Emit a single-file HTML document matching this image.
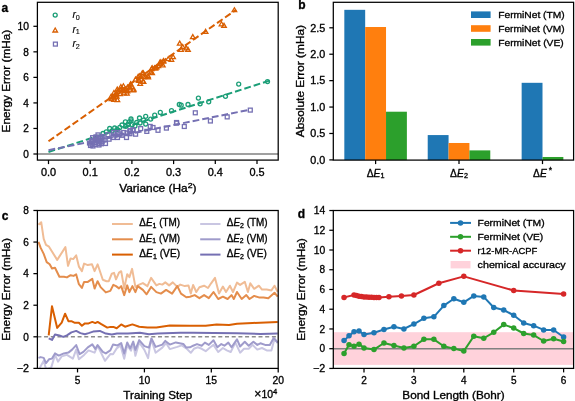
<!DOCTYPE html>
<html><head><meta charset="utf-8"><style>
html,body{margin:0;padding:0;background:#fff;}
svg{display:block;will-change:transform;}
text{font-family:"Liberation Sans", sans-serif;fill:#000;stroke:#000;stroke-width:0.32px;}
</style></head><body>
<svg width="575" height="401" viewBox="0 0 575 401">
<rect width="575" height="401" fill="#fff"/>
<line x1="37.40" y1="154.00" x2="278.20" y2="154.00" stroke="#808080" stroke-width="1.6" />
<circle cx="267.50" cy="81.60" r="2.0" fill="none" stroke="#1b9e77" stroke-width="1.3"/>
<circle cx="238.70" cy="84.10" r="2.0" fill="none" stroke="#1b9e77" stroke-width="1.3"/>
<circle cx="225.50" cy="96.30" r="2.0" fill="none" stroke="#1b9e77" stroke-width="1.3"/>
<circle cx="208.70" cy="101.80" r="2.0" fill="none" stroke="#1b9e77" stroke-width="1.3"/>
<circle cx="198.40" cy="98.10" r="2.0" fill="none" stroke="#1b9e77" stroke-width="1.3"/>
<circle cx="200.10" cy="103.80" r="2.0" fill="none" stroke="#1b9e77" stroke-width="1.3"/>
<circle cx="188.00" cy="104.50" r="2.0" fill="none" stroke="#1b9e77" stroke-width="1.3"/>
<circle cx="181.20" cy="105.20" r="2.0" fill="none" stroke="#1b9e77" stroke-width="1.3"/>
<circle cx="179.30" cy="104.50" r="2.0" fill="none" stroke="#1b9e77" stroke-width="1.3"/>
<circle cx="171.50" cy="110.70" r="2.0" fill="none" stroke="#1b9e77" stroke-width="1.3"/>
<circle cx="160.30" cy="112.40" r="2.0" fill="none" stroke="#1b9e77" stroke-width="1.3"/>
<circle cx="154.70" cy="115.20" r="2.0" fill="none" stroke="#1b9e77" stroke-width="1.3"/>
<circle cx="150.70" cy="119.10" r="2.0" fill="none" stroke="#1b9e77" stroke-width="1.3"/>
<circle cx="145.70" cy="116.30" r="2.0" fill="none" stroke="#1b9e77" stroke-width="1.3"/>
<circle cx="145.70" cy="124.10" r="2.0" fill="none" stroke="#1b9e77" stroke-width="1.3"/>
<circle cx="143.50" cy="120.20" r="2.0" fill="none" stroke="#1b9e77" stroke-width="1.3"/>
<circle cx="139.50" cy="118.00" r="2.0" fill="none" stroke="#1b9e77" stroke-width="1.3"/>
<circle cx="140.10" cy="123.00" r="2.0" fill="none" stroke="#1b9e77" stroke-width="1.3"/>
<circle cx="136.70" cy="122.50" r="2.0" fill="none" stroke="#1b9e77" stroke-width="1.3"/>
<circle cx="131.10" cy="120.80" r="2.0" fill="none" stroke="#1b9e77" stroke-width="1.3"/>
<circle cx="132.20" cy="124.70" r="2.0" fill="none" stroke="#1b9e77" stroke-width="1.3"/>
<circle cx="131.00" cy="119.00" r="2.0" fill="none" stroke="#1b9e77" stroke-width="1.3"/>
<circle cx="129.30" cy="121.80" r="2.0" fill="none" stroke="#1b9e77" stroke-width="1.3"/>
<circle cx="125.40" cy="121.80" r="2.0" fill="none" stroke="#1b9e77" stroke-width="1.3"/>
<circle cx="125.90" cy="126.30" r="2.0" fill="none" stroke="#1b9e77" stroke-width="1.3"/>
<circle cx="119.80" cy="127.40" r="2.0" fill="none" stroke="#1b9e77" stroke-width="1.3"/>
<circle cx="114.70" cy="128.00" r="2.0" fill="none" stroke="#1b9e77" stroke-width="1.3"/>
<circle cx="109.70" cy="128.50" r="2.0" fill="none" stroke="#1b9e77" stroke-width="1.3"/>
<circle cx="106.30" cy="131.90" r="2.0" fill="none" stroke="#1b9e77" stroke-width="1.3"/>
<circle cx="103.00" cy="133.50" r="2.0" fill="none" stroke="#1b9e77" stroke-width="1.3"/>
<circle cx="122.00" cy="125.00" r="2.0" fill="none" stroke="#1b9e77" stroke-width="1.3"/>
<circle cx="117.00" cy="129.50" r="2.0" fill="none" stroke="#1b9e77" stroke-width="1.3"/>
<circle cx="112.00" cy="131.00" r="2.0" fill="none" stroke="#1b9e77" stroke-width="1.3"/>
<circle cx="128.00" cy="124.50" r="2.0" fill="none" stroke="#1b9e77" stroke-width="1.3"/>
<circle cx="135.00" cy="126.00" r="2.0" fill="none" stroke="#1b9e77" stroke-width="1.3"/>
<line x1="48.50" y1="151.96" x2="269.51" y2="80.57" stroke="#1b9e77" stroke-width="2.0" stroke-dasharray="6.8,3"/>
<polygon points="234.40,7.70 232.10,11.70 236.70,11.70" fill="none" stroke="#d95f02" stroke-width="1.3" stroke-linejoin="miter"/>
<polygon points="221.50,21.80 219.20,25.80 223.80,25.80" fill="none" stroke="#d95f02" stroke-width="1.3" stroke-linejoin="miter"/>
<polygon points="224.00,23.40 221.70,27.40 226.30,27.40" fill="none" stroke="#d95f02" stroke-width="1.3" stroke-linejoin="miter"/>
<polygon points="205.60,29.40 203.30,33.40 207.90,33.40" fill="none" stroke="#d95f02" stroke-width="1.3" stroke-linejoin="miter"/>
<polygon points="192.80,34.60 190.50,38.60 195.10,38.60" fill="none" stroke="#d95f02" stroke-width="1.3" stroke-linejoin="miter"/>
<polygon points="179.70,41.10 177.40,45.10 182.00,45.10" fill="none" stroke="#d95f02" stroke-width="1.3" stroke-linejoin="miter"/>
<polygon points="182.70,44.60 180.40,48.60 185.00,48.60" fill="none" stroke="#d95f02" stroke-width="1.3" stroke-linejoin="miter"/>
<polygon points="186.20,45.90 183.90,49.90 188.50,49.90" fill="none" stroke="#d95f02" stroke-width="1.3" stroke-linejoin="miter"/>
<polygon points="188.00,47.30 185.70,51.30 190.30,51.30" fill="none" stroke="#d95f02" stroke-width="1.3" stroke-linejoin="miter"/>
<polygon points="181.00,47.30 178.70,51.30 183.30,51.30" fill="none" stroke="#d95f02" stroke-width="1.3" stroke-linejoin="miter"/>
<polygon points="173.10,54.70 170.80,58.70 175.40,58.70" fill="none" stroke="#d95f02" stroke-width="1.3" stroke-linejoin="miter"/>
<polygon points="171.40,57.30 169.10,61.30 173.70,61.30" fill="none" stroke="#d95f02" stroke-width="1.3" stroke-linejoin="miter"/>
<polygon points="168.20,56.70 165.90,60.70 170.50,60.70" fill="none" stroke="#d95f02" stroke-width="1.3" stroke-linejoin="miter"/>
<polygon points="163.50,58.60 161.20,62.60 165.80,62.60" fill="none" stroke="#d95f02" stroke-width="1.3" stroke-linejoin="miter"/>
<polygon points="160.90,59.90 158.60,63.90 163.20,63.90" fill="none" stroke="#d95f02" stroke-width="1.3" stroke-linejoin="miter"/>
<polygon points="163.30,59.20 161.00,63.20 165.60,63.20" fill="none" stroke="#d95f02" stroke-width="1.3" stroke-linejoin="miter"/>
<polygon points="162.80,62.90 160.50,66.90 165.10,66.90" fill="none" stroke="#d95f02" stroke-width="1.3" stroke-linejoin="miter"/>
<polygon points="160.00,60.00 157.70,64.00 162.30,64.00" fill="none" stroke="#d95f02" stroke-width="1.3" stroke-linejoin="miter"/>
<polygon points="158.30,63.70 156.00,67.70 160.60,67.70" fill="none" stroke="#d95f02" stroke-width="1.3" stroke-linejoin="miter"/>
<polygon points="156.70,64.90 154.40,68.90 159.00,68.90" fill="none" stroke="#d95f02" stroke-width="1.3" stroke-linejoin="miter"/>
<polygon points="154.60,65.80 152.30,69.80 156.90,69.80" fill="none" stroke="#d95f02" stroke-width="1.3" stroke-linejoin="miter"/>
<polygon points="151.70,66.60 149.40,70.60 154.00,70.60" fill="none" stroke="#d95f02" stroke-width="1.3" stroke-linejoin="miter"/>
<polygon points="150.90,69.90 148.60,73.90 153.20,73.90" fill="none" stroke="#d95f02" stroke-width="1.3" stroke-linejoin="miter"/>
<polygon points="148.00,73.60 145.70,77.60 150.30,77.60" fill="none" stroke="#d95f02" stroke-width="1.3" stroke-linejoin="miter"/>
<polygon points="145.60,74.40 143.30,78.40 147.90,78.40" fill="none" stroke="#d95f02" stroke-width="1.3" stroke-linejoin="miter"/>
<polygon points="143.50,79.30 141.20,83.30 145.80,83.30" fill="none" stroke="#d95f02" stroke-width="1.3" stroke-linejoin="miter"/>
<polygon points="140.20,81.40 137.90,85.40 142.50,85.40" fill="none" stroke="#d95f02" stroke-width="1.3" stroke-linejoin="miter"/>
<polygon points="138.60,78.10 136.30,82.10 140.90,82.10" fill="none" stroke="#d95f02" stroke-width="1.3" stroke-linejoin="miter"/>
<polygon points="138.20,74.40 135.90,78.40 140.50,78.40" fill="none" stroke="#d95f02" stroke-width="1.3" stroke-linejoin="miter"/>
<polygon points="142.30,70.70 140.00,74.70 144.60,74.70" fill="none" stroke="#d95f02" stroke-width="1.3" stroke-linejoin="miter"/>
<polygon points="135.50,77.10 133.20,81.10 137.80,81.10" fill="none" stroke="#d95f02" stroke-width="1.3" stroke-linejoin="miter"/>
<polygon points="133.30,87.90 131.00,91.90 135.60,91.90" fill="none" stroke="#d95f02" stroke-width="1.3" stroke-linejoin="miter"/>
<polygon points="130.50,82.10 128.20,86.10 132.80,86.10" fill="none" stroke="#d95f02" stroke-width="1.3" stroke-linejoin="miter"/>
<polygon points="127.40,88.90 125.10,92.90 129.70,92.90" fill="none" stroke="#d95f02" stroke-width="1.3" stroke-linejoin="miter"/>
<polygon points="122.60,87.00 120.30,91.00 124.90,91.00" fill="none" stroke="#d95f02" stroke-width="1.3" stroke-linejoin="miter"/>
<polygon points="117.40,89.60 115.10,93.60 119.70,93.60" fill="none" stroke="#d95f02" stroke-width="1.3" stroke-linejoin="miter"/>
<polygon points="115.40,92.50 113.10,96.50 117.70,96.50" fill="none" stroke="#d95f02" stroke-width="1.3" stroke-linejoin="miter"/>
<polygon points="112.50,95.10 110.20,99.10 114.80,99.10" fill="none" stroke="#d95f02" stroke-width="1.3" stroke-linejoin="miter"/>
<polygon points="117.40,97.70 115.10,101.70 119.70,101.70" fill="none" stroke="#d95f02" stroke-width="1.3" stroke-linejoin="miter"/>
<polygon points="111.50,96.60 109.20,100.60 113.80,100.60" fill="none" stroke="#d95f02" stroke-width="1.3" stroke-linejoin="miter"/>
<polygon points="130.80,81.79 128.50,85.79 133.10,85.79" fill="none" stroke="#d95f02" stroke-width="1.3" stroke-linejoin="miter"/>
<polygon points="120.86,84.50 118.56,88.50 123.16,88.50" fill="none" stroke="#d95f02" stroke-width="1.3" stroke-linejoin="miter"/>
<polygon points="123.40,83.79 121.10,87.79 125.70,87.79" fill="none" stroke="#d95f02" stroke-width="1.3" stroke-linejoin="miter"/>
<polygon points="127.50,85.08 125.20,89.09 129.80,89.09" fill="none" stroke="#d95f02" stroke-width="1.3" stroke-linejoin="miter"/>
<polygon points="129.72,84.82 127.42,88.82 132.02,88.82" fill="none" stroke="#d95f02" stroke-width="1.3" stroke-linejoin="miter"/>
<polygon points="117.26,87.06 114.96,91.06 119.56,91.06" fill="none" stroke="#d95f02" stroke-width="1.3" stroke-linejoin="miter"/>
<polygon points="120.71,87.46 118.41,91.46 123.01,91.46" fill="none" stroke="#d95f02" stroke-width="1.3" stroke-linejoin="miter"/>
<polygon points="124.23,88.37 121.93,92.37 126.53,92.37" fill="none" stroke="#d95f02" stroke-width="1.3" stroke-linejoin="miter"/>
<polygon points="127.01,88.40 124.71,92.40 129.31,92.40" fill="none" stroke="#d95f02" stroke-width="1.3" stroke-linejoin="miter"/>
<polygon points="130.03,87.11 127.73,91.11 132.33,91.11" fill="none" stroke="#d95f02" stroke-width="1.3" stroke-linejoin="miter"/>
<polygon points="133.74,87.04 131.44,91.04 136.04,91.04" fill="none" stroke="#d95f02" stroke-width="1.3" stroke-linejoin="miter"/>
<polygon points="113.95,90.52 111.65,94.52 116.25,94.52" fill="none" stroke="#d95f02" stroke-width="1.3" stroke-linejoin="miter"/>
<polygon points="116.46,91.51 114.16,95.52 118.76,95.52" fill="none" stroke="#d95f02" stroke-width="1.3" stroke-linejoin="miter"/>
<polygon points="120.14,91.64 117.84,95.64 122.44,95.64" fill="none" stroke="#d95f02" stroke-width="1.3" stroke-linejoin="miter"/>
<polygon points="124.26,90.83 121.96,94.83 126.56,94.83" fill="none" stroke="#d95f02" stroke-width="1.3" stroke-linejoin="miter"/>
<polygon points="126.94,91.03 124.64,95.03 129.24,95.03" fill="none" stroke="#d95f02" stroke-width="1.3" stroke-linejoin="miter"/>
<polygon points="111.12,94.31 108.82,98.31 113.42,98.31" fill="none" stroke="#d95f02" stroke-width="1.3" stroke-linejoin="miter"/>
<polygon points="113.70,94.61 111.40,98.61 116.00,98.61" fill="none" stroke="#d95f02" stroke-width="1.3" stroke-linejoin="miter"/>
<polygon points="116.73,94.02 114.43,98.02 119.03,98.02" fill="none" stroke="#d95f02" stroke-width="1.3" stroke-linejoin="miter"/>
<polygon points="114.05,97.39 111.75,101.39 116.35,101.39" fill="none" stroke="#d95f02" stroke-width="1.3" stroke-linejoin="miter"/>
<polygon points="160.24,61.37 157.94,65.37 162.54,65.37" fill="none" stroke="#d95f02" stroke-width="1.3" stroke-linejoin="miter"/>
<polygon points="152.21,65.68 149.91,69.68 154.51,69.68" fill="none" stroke="#d95f02" stroke-width="1.3" stroke-linejoin="miter"/>
<polygon points="155.78,65.88 153.48,69.88 158.08,69.88" fill="none" stroke="#d95f02" stroke-width="1.3" stroke-linejoin="miter"/>
<polygon points="143.31,70.83 141.01,74.83 145.61,74.83" fill="none" stroke="#d95f02" stroke-width="1.3" stroke-linejoin="miter"/>
<polygon points="152.14,70.67 149.84,74.67 154.44,74.67" fill="none" stroke="#d95f02" stroke-width="1.3" stroke-linejoin="miter"/>
<polygon points="139.63,73.76 137.33,77.76 141.93,77.76" fill="none" stroke="#d95f02" stroke-width="1.3" stroke-linejoin="miter"/>
<polygon points="143.97,74.67 141.67,78.67 146.27,78.67" fill="none" stroke="#d95f02" stroke-width="1.3" stroke-linejoin="miter"/>
<polygon points="148.19,74.95 145.89,78.96 150.49,78.96" fill="none" stroke="#d95f02" stroke-width="1.3" stroke-linejoin="miter"/>
<polygon points="139.36,78.38 137.06,82.38 141.66,82.38" fill="none" stroke="#d95f02" stroke-width="1.3" stroke-linejoin="miter"/>
<polygon points="143.05,79.11 140.75,83.11 145.35,83.11" fill="none" stroke="#d95f02" stroke-width="1.3" stroke-linejoin="miter"/>
<line x1="48.50" y1="141.23" x2="236.15" y2="9.70" stroke="#d95f02" stroke-width="2.0" stroke-dasharray="6.8,3"/>
<rect x="248.35" y="108.15" width="3.9" height="3.9" fill="none" stroke="#7570b3" stroke-width="1.3"/>
<rect x="225.25" y="114.95" width="3.9" height="3.9" fill="none" stroke="#7570b3" stroke-width="1.3"/>
<rect x="208.45" y="119.05" width="3.9" height="3.9" fill="none" stroke="#7570b3" stroke-width="1.3"/>
<rect x="193.35" y="110.85" width="3.9" height="3.9" fill="none" stroke="#7570b3" stroke-width="1.3"/>
<rect x="182.35" y="124.55" width="3.9" height="3.9" fill="none" stroke="#7570b3" stroke-width="1.3"/>
<rect x="174.65" y="121.15" width="3.9" height="3.9" fill="none" stroke="#7570b3" stroke-width="1.3"/>
<rect x="174.55" y="120.55" width="3.9" height="3.9" fill="none" stroke="#7570b3" stroke-width="1.3"/>
<rect x="164.45" y="126.15" width="3.9" height="3.9" fill="none" stroke="#7570b3" stroke-width="1.3"/>
<rect x="156.05" y="128.35" width="3.9" height="3.9" fill="none" stroke="#7570b3" stroke-width="1.3"/>
<rect x="151.05" y="125.55" width="3.9" height="3.9" fill="none" stroke="#7570b3" stroke-width="1.3"/>
<rect x="148.25" y="124.45" width="3.9" height="3.9" fill="none" stroke="#7570b3" stroke-width="1.3"/>
<rect x="144.85" y="129.45" width="3.9" height="3.9" fill="none" stroke="#7570b3" stroke-width="1.3"/>
<rect x="138.75" y="126.65" width="3.9" height="3.9" fill="none" stroke="#7570b3" stroke-width="1.3"/>
<rect x="133.65" y="132.25" width="3.9" height="3.9" fill="none" stroke="#7570b3" stroke-width="1.3"/>
<rect x="130.85" y="127.85" width="3.9" height="3.9" fill="none" stroke="#7570b3" stroke-width="1.3"/>
<rect x="128.65" y="128.95" width="3.9" height="3.9" fill="none" stroke="#7570b3" stroke-width="1.3"/>
<rect x="128.05" y="131.75" width="3.9" height="3.9" fill="none" stroke="#7570b3" stroke-width="1.3"/>
<rect x="131.25" y="128.25" width="3.9" height="3.9" fill="none" stroke="#7570b3" stroke-width="1.3"/>
<rect x="127.85" y="128.85" width="3.9" height="3.9" fill="none" stroke="#7570b3" stroke-width="1.3"/>
<rect x="124.55" y="135.55" width="3.9" height="3.9" fill="none" stroke="#7570b3" stroke-width="1.3"/>
<rect x="121.75" y="130.55" width="3.9" height="3.9" fill="none" stroke="#7570b3" stroke-width="1.3"/>
<rect x="120.05" y="133.35" width="3.9" height="3.9" fill="none" stroke="#7570b3" stroke-width="1.3"/>
<rect x="116.05" y="130.55" width="3.9" height="3.9" fill="none" stroke="#7570b3" stroke-width="1.3"/>
<rect x="115.55" y="135.55" width="3.9" height="3.9" fill="none" stroke="#7570b3" stroke-width="1.3"/>
<rect x="111.05" y="135.55" width="3.9" height="3.9" fill="none" stroke="#7570b3" stroke-width="1.3"/>
<rect x="111.65" y="130.55" width="3.9" height="3.9" fill="none" stroke="#7570b3" stroke-width="1.3"/>
<rect x="107.15" y="137.25" width="3.9" height="3.9" fill="none" stroke="#7570b3" stroke-width="1.3"/>
<rect x="106.05" y="132.75" width="3.9" height="3.9" fill="none" stroke="#7570b3" stroke-width="1.3"/>
<rect x="102.05" y="138.05" width="3.9" height="3.9" fill="none" stroke="#7570b3" stroke-width="1.3"/>
<rect x="99.85" y="141.15" width="3.9" height="3.9" fill="none" stroke="#7570b3" stroke-width="1.3"/>
<rect x="98.75" y="136.15" width="3.9" height="3.9" fill="none" stroke="#7570b3" stroke-width="1.3"/>
<rect x="97.05" y="143.05" width="3.9" height="3.9" fill="none" stroke="#7570b3" stroke-width="1.3"/>
<rect x="94.05" y="140.55" width="3.9" height="3.9" fill="none" stroke="#7570b3" stroke-width="1.3"/>
<rect x="94.25" y="135.05" width="3.9" height="3.9" fill="none" stroke="#7570b3" stroke-width="1.3"/>
<rect x="91.05" y="144.05" width="3.9" height="3.9" fill="none" stroke="#7570b3" stroke-width="1.3"/>
<rect x="89.75" y="138.95" width="3.9" height="3.9" fill="none" stroke="#7570b3" stroke-width="1.3"/>
<rect x="87.55" y="141.05" width="3.9" height="3.9" fill="none" stroke="#7570b3" stroke-width="1.3"/>
<rect x="88.55" y="143.55" width="3.9" height="3.9" fill="none" stroke="#7570b3" stroke-width="1.3"/>
<rect x="93.05" y="137.55" width="3.9" height="3.9" fill="none" stroke="#7570b3" stroke-width="1.3"/>
<rect x="96.05" y="139.05" width="3.9" height="3.9" fill="none" stroke="#7570b3" stroke-width="1.3"/>
<rect x="101.05" y="134.55" width="3.9" height="3.9" fill="none" stroke="#7570b3" stroke-width="1.3"/>
<rect x="103.55" y="141.55" width="3.9" height="3.9" fill="none" stroke="#7570b3" stroke-width="1.3"/>
<rect x="118.05" y="132.05" width="3.9" height="3.9" fill="none" stroke="#7570b3" stroke-width="1.3"/>
<rect x="113.05" y="133.05" width="3.9" height="3.9" fill="none" stroke="#7570b3" stroke-width="1.3"/>
<rect x="125.05" y="131.05" width="3.9" height="3.9" fill="none" stroke="#7570b3" stroke-width="1.3"/>
<rect x="96.07" y="132.95" width="3.9" height="3.9" fill="none" stroke="#7570b3" stroke-width="1.3"/>
<rect x="90.65" y="135.72" width="3.9" height="3.9" fill="none" stroke="#7570b3" stroke-width="1.3"/>
<rect x="93.62" y="135.33" width="3.9" height="3.9" fill="none" stroke="#7570b3" stroke-width="1.3"/>
<rect x="96.81" y="136.19" width="3.9" height="3.9" fill="none" stroke="#7570b3" stroke-width="1.3"/>
<rect x="99.88" y="136.04" width="3.9" height="3.9" fill="none" stroke="#7570b3" stroke-width="1.3"/>
<rect x="90.56" y="139.06" width="3.9" height="3.9" fill="none" stroke="#7570b3" stroke-width="1.3"/>
<rect x="93.21" y="138.39" width="3.9" height="3.9" fill="none" stroke="#7570b3" stroke-width="1.3"/>
<rect x="97.09" y="138.92" width="3.9" height="3.9" fill="none" stroke="#7570b3" stroke-width="1.3"/>
<rect x="100.11" y="139.40" width="3.9" height="3.9" fill="none" stroke="#7570b3" stroke-width="1.3"/>
<rect x="90.12" y="142.51" width="3.9" height="3.9" fill="none" stroke="#7570b3" stroke-width="1.3"/>
<rect x="93.38" y="142.67" width="3.9" height="3.9" fill="none" stroke="#7570b3" stroke-width="1.3"/>
<rect x="97.10" y="141.67" width="3.9" height="3.9" fill="none" stroke="#7570b3" stroke-width="1.3"/>
<rect x="99.41" y="141.81" width="3.9" height="3.9" fill="none" stroke="#7570b3" stroke-width="1.3"/>
<line x1="48.50" y1="150.17" x2="248.66" y2="109.94" stroke="#7570b3" stroke-width="2.0" stroke-dasharray="6.8,3"/>
<rect x="37.4" y="2.3" width="240.79999999999998" height="157.79999999999998" fill="none" stroke="#000" stroke-width="1.25"/>
<line x1="33.40" y1="154.00" x2="37.40" y2="154.00" stroke="#000" stroke-width="1.25" />
<text x="28.90" y="157.70" font-size="10.3" text-anchor="end" font-weight="normal" textLength="5.6" lengthAdjust="spacingAndGlyphs" >0</text>
<line x1="33.40" y1="128.46" x2="37.40" y2="128.46" stroke="#000" stroke-width="1.25" />
<text x="28.90" y="132.16" font-size="10.3" text-anchor="end" font-weight="normal" textLength="5.6" lengthAdjust="spacingAndGlyphs" >2</text>
<line x1="33.40" y1="102.92" x2="37.40" y2="102.92" stroke="#000" stroke-width="1.25" />
<text x="28.90" y="106.62" font-size="10.3" text-anchor="end" font-weight="normal" textLength="5.6" lengthAdjust="spacingAndGlyphs" >4</text>
<line x1="33.40" y1="77.38" x2="37.40" y2="77.38" stroke="#000" stroke-width="1.25" />
<text x="28.90" y="81.08" font-size="10.3" text-anchor="end" font-weight="normal" textLength="5.6" lengthAdjust="spacingAndGlyphs" >6</text>
<line x1="33.40" y1="51.84" x2="37.40" y2="51.84" stroke="#000" stroke-width="1.25" />
<text x="28.90" y="55.54" font-size="10.3" text-anchor="end" font-weight="normal" textLength="5.6" lengthAdjust="spacingAndGlyphs" >8</text>
<line x1="33.40" y1="26.30" x2="37.40" y2="26.30" stroke="#000" stroke-width="1.25" />
<text x="28.90" y="30.00" font-size="10.3" text-anchor="end" font-weight="normal" textLength="11.5" lengthAdjust="spacingAndGlyphs" >10</text>
<line x1="48.50" y1="160.10" x2="48.50" y2="164.10" stroke="#000" stroke-width="1.25" />
<text x="48.50" y="176.30" font-size="10.3" text-anchor="middle" font-weight="normal" textLength="15.2" lengthAdjust="spacingAndGlyphs" >0.0</text>
<line x1="90.20" y1="160.10" x2="90.20" y2="164.10" stroke="#000" stroke-width="1.25" />
<text x="90.20" y="176.30" font-size="10.3" text-anchor="middle" font-weight="normal" textLength="15.2" lengthAdjust="spacingAndGlyphs" >0.1</text>
<line x1="131.90" y1="160.10" x2="131.90" y2="164.10" stroke="#000" stroke-width="1.25" />
<text x="131.90" y="176.30" font-size="10.3" text-anchor="middle" font-weight="normal" textLength="15.2" lengthAdjust="spacingAndGlyphs" >0.2</text>
<line x1="173.60" y1="160.10" x2="173.60" y2="164.10" stroke="#000" stroke-width="1.25" />
<text x="173.60" y="176.30" font-size="10.3" text-anchor="middle" font-weight="normal" textLength="15.2" lengthAdjust="spacingAndGlyphs" >0.3</text>
<line x1="215.30" y1="160.10" x2="215.30" y2="164.10" stroke="#000" stroke-width="1.25" />
<text x="215.30" y="176.30" font-size="10.3" text-anchor="middle" font-weight="normal" textLength="15.2" lengthAdjust="spacingAndGlyphs" >0.4</text>
<line x1="257.00" y1="160.10" x2="257.00" y2="164.10" stroke="#000" stroke-width="1.25" />
<text x="257.00" y="176.30" font-size="10.3" text-anchor="middle" font-weight="normal" textLength="15.2" lengthAdjust="spacingAndGlyphs" >0.5</text>
<text x="157.80" y="192.30" font-size="10.3" text-anchor="middle" font-weight="normal" textLength="77.3" lengthAdjust="spacingAndGlyphs" >Variance (Ha<tspan font-size="7.5" dy="-4">2</tspan><tspan dy="4">)</tspan></text>
<text x="10.00" y="81.10" font-size="10.3" text-anchor="middle" font-weight="normal" textLength="102.6" lengthAdjust="spacingAndGlyphs" transform="rotate(-90 10.0 81.1)" >Energy Error (mHa)</text>
<text x="1.50" y="11.60" font-size="12" text-anchor="start" font-weight="bold" >a</text>
<circle cx="55.20" cy="15.10" r="2.0" fill="none" stroke="#1b9e77" stroke-width="1.3"/>
<polygon points="55.20,28.00 52.90,32.00 57.50,32.00" fill="none" stroke="#d95f02" stroke-width="1.3" stroke-linejoin="miter"/>
<rect x="53.45" y="42.15" width="3.9" height="3.9" fill="none" stroke="#7570b3" stroke-width="1.3"/>
<text x="72.4" y="18.20" font-size="10.3" font-style="italic" style="stroke-width:0.12px">r<tspan font-size="7.2" dy="1.3" font-style="normal">0</tspan></text>
<text x="72.4" y="32.70" font-size="10.3" font-style="italic" style="stroke-width:0.12px">r<tspan font-size="7.2" dy="1.3" font-style="normal">1</tspan></text>
<text x="72.4" y="47.20" font-size="10.3" font-style="italic" style="stroke-width:0.12px">r<tspan font-size="7.2" dy="1.3" font-style="normal">2</tspan></text>
<rect x="344.32" y="9.83" width="20.85" height="150.27" fill="#1f77b4"/>
<rect x="365.18" y="27.01" width="20.85" height="133.09" fill="#ff7f0e"/>
<rect x="386.03" y="111.71" width="20.85" height="48.39" fill="#2ca02c"/>
<rect x="427.72" y="135.07" width="20.85" height="25.03" fill="#1f77b4"/>
<rect x="448.57" y="142.99" width="20.85" height="17.11" fill="#ff7f0e"/>
<rect x="469.43" y="150.39" width="20.85" height="9.71" fill="#2ca02c"/>
<rect x="521.65" y="82.81" width="20.85" height="77.29" fill="#1f77b4"/>
<rect x="542.50" y="156.99" width="20.85" height="3.11" fill="#2ca02c"/>
<rect x="333.3" y="2.3" width="240.3" height="157.79999999999998" fill="none" stroke="#000" stroke-width="1.25"/>
<line x1="329.30" y1="159.90" x2="333.30" y2="159.90" stroke="#000" stroke-width="1.25" />
<text x="325.20" y="163.60" font-size="10.3" text-anchor="end" font-weight="normal" textLength="15.0" lengthAdjust="spacingAndGlyphs" >0.0</text>
<line x1="329.30" y1="133.48" x2="333.30" y2="133.48" stroke="#000" stroke-width="1.25" />
<text x="325.20" y="137.18" font-size="10.3" text-anchor="end" font-weight="normal" textLength="15.0" lengthAdjust="spacingAndGlyphs" >0.5</text>
<line x1="329.30" y1="107.06" x2="333.30" y2="107.06" stroke="#000" stroke-width="1.25" />
<text x="325.20" y="110.76" font-size="10.3" text-anchor="end" font-weight="normal" textLength="15.0" lengthAdjust="spacingAndGlyphs" >1.0</text>
<line x1="329.30" y1="80.64" x2="333.30" y2="80.64" stroke="#000" stroke-width="1.25" />
<text x="325.20" y="84.34" font-size="10.3" text-anchor="end" font-weight="normal" textLength="15.0" lengthAdjust="spacingAndGlyphs" >1.5</text>
<line x1="329.30" y1="54.22" x2="333.30" y2="54.22" stroke="#000" stroke-width="1.25" />
<text x="325.20" y="57.92" font-size="10.3" text-anchor="end" font-weight="normal" textLength="15.0" lengthAdjust="spacingAndGlyphs" >2.0</text>
<line x1="329.30" y1="27.80" x2="333.30" y2="27.80" stroke="#000" stroke-width="1.25" />
<text x="325.20" y="31.50" font-size="10.3" text-anchor="end" font-weight="normal" textLength="15.0" lengthAdjust="spacingAndGlyphs" >2.5</text>
<line x1="375.60" y1="160.10" x2="375.60" y2="164.10" stroke="#000" stroke-width="1.25" />
<line x1="459.00" y1="160.10" x2="459.00" y2="164.10" stroke="#000" stroke-width="1.25" />
<line x1="542.50" y1="160.10" x2="542.50" y2="164.10" stroke="#000" stroke-width="1.25" />
<text x="375.60" y="176.50" font-size="10.3" text-anchor="middle" font-weight="normal" >Δ<tspan font-style="italic">E</tspan><tspan font-size="7.2" dy="1.8">1</tspan></text>
<text x="459.00" y="176.50" font-size="10.3" text-anchor="middle" font-weight="normal" >Δ<tspan font-style="italic">E</tspan><tspan font-size="7.2" dy="1.8">2</tspan></text>
<text x="542.50" y="176.50" font-size="10.3" text-anchor="middle" font-weight="normal" >Δ<tspan font-style="italic">E</tspan><tspan font-size="8.5" dx="1.8" dy="-3.2">*</tspan></text>
<text x="304.50" y="81.10" font-size="10.3" text-anchor="middle" font-weight="normal" textLength="112.3" lengthAdjust="spacingAndGlyphs" transform="rotate(-90 304.5 81.1)" >Absolute Error (mHa)</text>
<text x="298.20" y="9.30" font-size="12" text-anchor="start" font-weight="bold" >b</text>
<rect x="471" y="11.40" width="19.6" height="6.6" fill="#1f77b4"/>
<text x="498.20" y="18.20" font-size="9.7" text-anchor="start" font-weight="normal" textLength="66.5" lengthAdjust="spacingAndGlyphs" >FermiNet (TM)</text>
<rect x="471" y="25.20" width="19.6" height="6.6" fill="#ff7f0e"/>
<text x="498.20" y="32.00" font-size="9.7" text-anchor="start" font-weight="normal" textLength="66.5" lengthAdjust="spacingAndGlyphs" >FermiNet (VM)</text>
<rect x="471" y="39.00" width="19.6" height="6.6" fill="#2ca02c"/>
<text x="498.20" y="45.80" font-size="9.7" text-anchor="start" font-weight="normal" textLength="65.5" lengthAdjust="spacingAndGlyphs" >FermiNet (VE)</text>
<clipPath id="clipc"><rect x="37.4" y="210.5" width="240.79999999999998" height="157.89999999999998"/></clipPath>
<line x1="37.40" y1="336.80" x2="278.20" y2="336.80" stroke="#8c8c8c" stroke-width="1.6" stroke-dasharray="4,2.7"/>
<g clip-path="url(#clipc)">
<polyline points="38.50,224.70 41.20,222.20 43.70,238.90 46.00,244.90 49.00,246.70 57.20,259.90 65.40,247.10 68.00,265.80 70.60,258.40 73.20,259.10 76.20,255.40 78.90,266.60 81.90,271.10 84.10,263.60 87.80,265.10 92.00,264.30 94.60,271.10 97.60,264.30 102.80,279.70 106.50,281.20 108.80,281.20 111.80,273.70 114.00,272.90 116.00,279.40 119.00,272.70 121.20,271.20 124.20,288.40 127.20,274.20 129.40,277.10 132.10,268.90 135.40,286.90 139.20,284.60 142.90,283.10 147.40,286.10 151.10,277.90 156.40,285.40 159.40,283.90 162.30,284.60 165.30,282.40 169.10,285.40 172.80,282.40 177.30,286.90 180.30,284.60 184.80,286.10 188.50,285.40 190.80,293.60 193.10,284.90 196.30,292.00 199.40,287.30 204.10,285.70 208.00,288.00 211.10,283.30 215.00,277.90 219.00,293.50 222.90,286.50 226.00,292.00 229.90,285.70 233.00,292.00 237.00,282.60 240.10,284.90 244.80,281.80 247.90,292.00 250.30,283.30 254.20,288.80 258.90,285.70 262.00,289.60 266.70,289.60 271.40,290.40 274.50,285.70 277.70,292.00" fill="none" stroke="#f0bc95" stroke-width="2.0" stroke-linejoin="round" stroke-linecap="butt" />
<polyline points="38.50,241.90 40.70,247.90 43.70,253.90 46.70,262.10 49.70,264.30 52.00,268.50 55.00,267.70 59.40,276.70 63.90,276.70 66.90,277.40 70.60,275.20 73.60,275.90 76.20,274.40 78.90,284.20 81.90,287.90 84.10,281.90 87.80,281.90 92.30,278.90 94.60,288.60 97.60,281.20 100.60,287.10 105.80,292.40 110.30,290.90 113.30,284.90 116.00,286.10 119.00,288.40 121.20,286.10 124.20,295.10 127.20,285.40 129.40,292.10 132.40,286.10 135.40,292.10 137.70,286.10 142.90,289.90 146.60,294.30 151.10,286.90 156.40,292.10 160.90,293.60 166.10,289.90 172.10,293.60 177.30,286.10 181.00,293.60 186.30,297.30 190.00,296.70 194.70,295.10 199.40,298.20 204.10,295.10 208.80,298.20 213.50,292.00 218.20,299.00 222.90,296.70 227.60,299.00 231.50,295.10 233.80,299.00 237.00,292.00 241.70,299.00 246.30,295.10 249.50,299.00 254.20,295.90 258.90,297.40 263.60,297.40 268.30,298.20 274.50,292.70 277.70,296.70" fill="none" stroke="#e48d4c" stroke-width="2.0" stroke-linejoin="round" stroke-linecap="butt" />
<polyline points="48.70,335.40 52.00,306.20 57.20,327.90 61.70,322.70 65.10,313.70 68.40,321.20 71.40,321.20 74.40,322.70 78.90,322.70 81.90,325.70 84.90,323.40 88.60,323.40 92.30,321.90 95.30,323.10 97.60,321.90 101.30,324.20 107.30,327.60 110.30,326.90 113.30,326.90 116.70,328.20 121.20,324.40 125.00,326.70 132.40,324.40 139.20,326.70 147.40,327.40 156.40,327.40 169.80,325.60 190.00,325.70 205.70,325.70 216.60,324.60 229.10,325.00 237.00,323.80 252.60,323.00 277.70,321.90" fill="none" stroke="#d95f02" stroke-width="2.0" stroke-linejoin="round" stroke-linecap="butt" />
<polyline points="38.00,372.00 40.00,367.60 43.70,360.80 46.00,369.00 51.20,367.60 55.00,354.90 58.00,361.60 61.70,356.40 66.90,354.90 72.90,358.60 76.20,349.60 78.90,359.30 84.10,354.90 88.60,350.40 94.60,352.60 97.60,345.90 105.00,360.80 110.30,354.10 113.00,354.30 116.70,348.40 120.50,345.40 124.20,358.80 127.20,345.40 131.00,350.60 133.20,343.10 135.40,355.80 139.20,342.40 144.40,349.90 148.10,358.10 151.10,338.60 155.60,352.80 162.30,347.60 166.10,343.10 169.80,349.10 177.30,346.90 181.80,345.40 186.30,348.40 190.80,352.80 193.90,348.80 197.80,347.30 201.70,348.80 205.70,351.20 210.30,347.30 213.50,344.90 218.20,352.00 222.90,348.00 226.80,350.40 230.70,352.00 235.40,342.60 240.10,352.70 244.00,348.80 248.70,348.80 252.60,344.90 257.30,349.60 262.00,348.00 266.70,350.40 271.40,350.40 274.50,338.70 277.70,343.30" fill="none" stroke="#c9c6e2" stroke-width="2.0" stroke-linejoin="round" stroke-linecap="butt" />
<polyline points="38.50,357.90 40.70,357.10 43.70,357.90 46.00,363.10 49.00,359.30 52.00,358.60 55.00,353.40 58.70,355.60 63.90,353.40 68.40,352.60 72.10,349.60 76.20,345.10 79.60,354.10 83.40,351.90 87.80,347.40 92.30,344.40 95.30,348.90 97.60,345.10 102.80,351.90 105.80,353.40 110.30,350.40 113.00,344.60 117.50,345.40 121.20,343.10 124.20,353.60 127.20,342.40 130.20,348.40 133.20,341.60 135.40,349.90 139.20,340.10 144.40,346.10 148.90,347.60 151.60,338.60 155.60,346.90 162.30,344.60 165.30,340.90 169.80,344.60 175.80,342.40 183.30,343.90 186.30,347.60 190.00,347.30 193.10,345.70 197.00,344.10 201.70,345.70 204.90,342.60 208.80,344.90 213.50,340.20 217.40,347.30 221.30,344.10 224.40,345.70 228.30,342.60 231.50,347.30 237.00,339.40 240.10,346.50 244.80,341.80 248.70,345.70 253.40,341.80 257.30,344.90 260.40,343.30 265.10,344.90 269.80,344.90 273.70,337.90 277.70,342.60" fill="none" stroke="#9f9bcb" stroke-width="2.0" stroke-linejoin="round" stroke-linecap="butt" />
<polyline points="48.70,338.40 52.00,339.90 55.00,334.60 59.40,335.40 63.20,336.90 66.90,335.40 71.40,332.40 76.20,330.90 80.40,333.10 84.90,334.20 88.60,333.10 93.10,331.60 99.80,330.90 105.80,333.60 111.80,334.60 117.00,333.60 128.00,333.40 139.90,332.70 148.90,334.20 157.90,333.40 180.30,332.70 193.00,332.70 213.50,332.90 237.00,333.20 260.40,334.00 277.70,333.60" fill="none" stroke="#7570b3" stroke-width="2.0" stroke-linejoin="round" stroke-linecap="butt" />
</g>
<rect x="37.4" y="210.5" width="240.79999999999998" height="157.89999999999998" fill="none" stroke="#000" stroke-width="1.25"/>
<line x1="33.40" y1="368.38" x2="37.40" y2="368.38" stroke="#000" stroke-width="1.25" />
<text x="28.90" y="372.08" font-size="10.3" text-anchor="end" font-weight="normal" textLength="12.2" lengthAdjust="spacingAndGlyphs" >−2</text>
<line x1="33.40" y1="336.80" x2="37.40" y2="336.80" stroke="#000" stroke-width="1.25" />
<text x="28.90" y="340.50" font-size="10.3" text-anchor="end" font-weight="normal" textLength="5.6" lengthAdjust="spacingAndGlyphs" >0</text>
<line x1="33.40" y1="305.22" x2="37.40" y2="305.22" stroke="#000" stroke-width="1.25" />
<text x="28.90" y="308.92" font-size="10.3" text-anchor="end" font-weight="normal" textLength="5.6" lengthAdjust="spacingAndGlyphs" >2</text>
<line x1="33.40" y1="273.64" x2="37.40" y2="273.64" stroke="#000" stroke-width="1.25" />
<text x="28.90" y="277.34" font-size="10.3" text-anchor="end" font-weight="normal" textLength="5.6" lengthAdjust="spacingAndGlyphs" >4</text>
<line x1="33.40" y1="242.06" x2="37.40" y2="242.06" stroke="#000" stroke-width="1.25" />
<text x="28.90" y="245.76" font-size="10.3" text-anchor="end" font-weight="normal" textLength="5.6" lengthAdjust="spacingAndGlyphs" >6</text>
<line x1="33.40" y1="210.48" x2="37.40" y2="210.48" stroke="#000" stroke-width="1.25" />
<text x="28.90" y="214.18" font-size="10.3" text-anchor="end" font-weight="normal" textLength="5.6" lengthAdjust="spacingAndGlyphs" >8</text>
<line x1="77.53" y1="368.40" x2="77.53" y2="372.40" stroke="#000" stroke-width="1.25" />
<text x="77.53" y="384.30" font-size="10.3" text-anchor="middle" font-weight="normal" textLength="5.6" lengthAdjust="spacingAndGlyphs" >5</text>
<line x1="144.42" y1="368.40" x2="144.42" y2="372.40" stroke="#000" stroke-width="1.25" />
<text x="144.42" y="384.30" font-size="10.3" text-anchor="middle" font-weight="normal" textLength="11.5" lengthAdjust="spacingAndGlyphs" >10</text>
<line x1="211.31" y1="368.40" x2="211.31" y2="372.40" stroke="#000" stroke-width="1.25" />
<text x="211.31" y="384.30" font-size="10.3" text-anchor="middle" font-weight="normal" textLength="11.5" lengthAdjust="spacingAndGlyphs" >15</text>
<line x1="278.20" y1="368.40" x2="278.20" y2="372.40" stroke="#000" stroke-width="1.25" />
<text x="278.20" y="384.30" font-size="10.3" text-anchor="middle" font-weight="normal" textLength="11.5" lengthAdjust="spacingAndGlyphs" >20</text>
<text x="157.80" y="399.00" font-size="10.3" text-anchor="middle" font-weight="normal" textLength="68.9" lengthAdjust="spacingAndGlyphs" >Training Step</text>
<text x="254.3" y="398.2" font-size="10.3" textLength="23" lengthAdjust="spacingAndGlyphs"><tspan font-size="12">×</tspan>10<tspan font-size="7.5" dy="-4.3">4</tspan></text>
<text x="10.00" y="289.50" font-size="10.3" text-anchor="middle" font-weight="normal" textLength="102.6" lengthAdjust="spacingAndGlyphs" transform="rotate(-90 10.0 289.5)" >Energy Error (mHa)</text>
<text x="1.80" y="219.80" font-size="12" text-anchor="start" font-weight="bold" >c</text>
<line x1="112.00" y1="224.00" x2="132.80" y2="224.00" stroke="#f0bc95" stroke-width="2.0" />
<text x="139.3" y="226.30" font-size="10" textLength="40.8" lengthAdjust="spacingAndGlyphs">Δ<tspan font-style="italic">E</tspan><tspan font-size="7" dy="1.8">1</tspan><tspan dy="-1.8"> (TM)</tspan></text>
<line x1="200.20" y1="224.00" x2="220.50" y2="224.00" stroke="#c9c6e2" stroke-width="2.0" />
<text x="226.8" y="226.30" font-size="10" textLength="40.8" lengthAdjust="spacingAndGlyphs">Δ<tspan font-style="italic">E</tspan><tspan font-size="7" dy="1.8">2</tspan><tspan dy="-1.8"> (TM)</tspan></text>
<line x1="112.00" y1="239.30" x2="132.80" y2="239.30" stroke="#e48d4c" stroke-width="2.0" />
<text x="139.3" y="241.60" font-size="10" textLength="40.8" lengthAdjust="spacingAndGlyphs">Δ<tspan font-style="italic">E</tspan><tspan font-size="7" dy="1.8">1</tspan><tspan dy="-1.8"> (VM)</tspan></text>
<line x1="200.20" y1="239.30" x2="220.50" y2="239.30" stroke="#9f9bcb" stroke-width="2.0" />
<text x="226.8" y="241.60" font-size="10" textLength="40.8" lengthAdjust="spacingAndGlyphs">Δ<tspan font-style="italic">E</tspan><tspan font-size="7" dy="1.8">2</tspan><tspan dy="-1.8"> (VM)</tspan></text>
<line x1="112.00" y1="254.60" x2="132.80" y2="254.60" stroke="#d95f02" stroke-width="2.0" />
<text x="139.3" y="256.90" font-size="10" textLength="40.8" lengthAdjust="spacingAndGlyphs">Δ<tspan font-style="italic">E</tspan><tspan font-size="7" dy="1.8">1</tspan><tspan dy="-1.8"> (VE)</tspan></text>
<line x1="200.20" y1="254.60" x2="220.50" y2="254.60" stroke="#7570b3" stroke-width="2.0" />
<text x="226.8" y="256.90" font-size="10" textLength="39.9" lengthAdjust="spacingAndGlyphs">Δ<tspan font-style="italic">E</tspan><tspan font-size="7" dy="1.8">2</tspan><tspan dy="-1.8"> (VE)</tspan></text>
<rect x="333.3" y="332.2" width="240.3" height="32.7" fill="#ffd2db"/>
<line x1="333.30" y1="348.70" x2="573.60" y2="348.70" stroke="#808080" stroke-width="1.6" />
<polyline points="344.04,297.38 354.02,294.91 356.51,295.60 359.01,296.19 361.50,296.59 364.00,296.88 366.50,297.08 368.99,297.18 371.49,297.28 373.98,297.38 376.48,297.38 378.97,297.38 388.95,296.69 401.43,295.90 413.90,295.01 438.85,283.26 463.80,276.35 513.70,290.47 563.60,294.02" fill="none" stroke="#d62728" stroke-width="2.0" stroke-linejoin="round" stroke-linecap="butt" />
<circle cx="344.04" cy="297.38" r="2.75" fill="#d62728"/>
<circle cx="354.02" cy="294.91" r="2.75" fill="#d62728"/>
<circle cx="356.51" cy="295.60" r="2.75" fill="#d62728"/>
<circle cx="359.01" cy="296.19" r="2.75" fill="#d62728"/>
<circle cx="361.50" cy="296.59" r="2.75" fill="#d62728"/>
<circle cx="364.00" cy="296.88" r="2.75" fill="#d62728"/>
<circle cx="366.50" cy="297.08" r="2.75" fill="#d62728"/>
<circle cx="368.99" cy="297.18" r="2.75" fill="#d62728"/>
<circle cx="371.49" cy="297.28" r="2.75" fill="#d62728"/>
<circle cx="373.98" cy="297.38" r="2.75" fill="#d62728"/>
<circle cx="376.48" cy="297.38" r="2.75" fill="#d62728"/>
<circle cx="378.97" cy="297.38" r="2.75" fill="#d62728"/>
<circle cx="388.95" cy="296.69" r="2.75" fill="#d62728"/>
<circle cx="401.43" cy="295.90" r="2.75" fill="#d62728"/>
<circle cx="413.90" cy="295.01" r="2.75" fill="#d62728"/>
<circle cx="438.85" cy="283.26" r="2.75" fill="#d62728"/>
<circle cx="463.80" cy="276.35" r="2.75" fill="#d62728"/>
<circle cx="513.70" cy="290.47" r="2.75" fill="#d62728"/>
<circle cx="563.60" cy="294.02" r="2.75" fill="#d62728"/>
<polyline points="344.04,340.61 349.03,335.87 354.02,331.72 359.01,331.03 364.00,334.59 373.98,332.71 383.96,329.55 393.94,326.79 403.92,328.96 413.90,324.02 423.88,318.30 433.86,316.82 443.84,305.57 453.82,298.76 463.80,302.31 473.78,295.90 483.76,296.88 493.74,307.44 503.72,310.01 513.70,315.24 523.68,322.94 533.66,325.70 543.64,329.95 553.62,329.95 563.60,337.05" fill="none" stroke="#1f77b4" stroke-width="2.0" stroke-linejoin="round" stroke-linecap="butt" />
<circle cx="344.04" cy="340.61" r="2.75" fill="#1f77b4"/>
<circle cx="349.03" cy="335.87" r="2.75" fill="#1f77b4"/>
<circle cx="354.02" cy="331.72" r="2.75" fill="#1f77b4"/>
<circle cx="359.01" cy="331.03" r="2.75" fill="#1f77b4"/>
<circle cx="364.00" cy="334.59" r="2.75" fill="#1f77b4"/>
<circle cx="373.98" cy="332.71" r="2.75" fill="#1f77b4"/>
<circle cx="383.96" cy="329.55" r="2.75" fill="#1f77b4"/>
<circle cx="393.94" cy="326.79" r="2.75" fill="#1f77b4"/>
<circle cx="403.92" cy="328.96" r="2.75" fill="#1f77b4"/>
<circle cx="413.90" cy="324.02" r="2.75" fill="#1f77b4"/>
<circle cx="423.88" cy="318.30" r="2.75" fill="#1f77b4"/>
<circle cx="433.86" cy="316.82" r="2.75" fill="#1f77b4"/>
<circle cx="443.84" cy="305.57" r="2.75" fill="#1f77b4"/>
<circle cx="453.82" cy="298.76" r="2.75" fill="#1f77b4"/>
<circle cx="463.80" cy="302.31" r="2.75" fill="#1f77b4"/>
<circle cx="473.78" cy="295.90" r="2.75" fill="#1f77b4"/>
<circle cx="483.76" cy="296.88" r="2.75" fill="#1f77b4"/>
<circle cx="493.74" cy="307.44" r="2.75" fill="#1f77b4"/>
<circle cx="503.72" cy="310.01" r="2.75" fill="#1f77b4"/>
<circle cx="513.70" cy="315.24" r="2.75" fill="#1f77b4"/>
<circle cx="523.68" cy="322.94" r="2.75" fill="#1f77b4"/>
<circle cx="533.66" cy="325.70" r="2.75" fill="#1f77b4"/>
<circle cx="543.64" cy="329.95" r="2.75" fill="#1f77b4"/>
<circle cx="553.62" cy="329.95" r="2.75" fill="#1f77b4"/>
<circle cx="563.60" cy="337.05" r="2.75" fill="#1f77b4"/>
<polyline points="344.04,353.54 349.03,344.75 354.02,346.13 359.01,344.16 364.00,347.91 373.98,349.59 383.96,342.98 393.94,345.44 403.92,347.91 413.90,346.23 423.88,339.32 433.86,339.32 443.84,346.23 453.82,348.60 463.80,351.07 473.78,336.26 483.76,338.24 493.74,332.32 503.72,324.62 513.70,328.07 523.68,333.50 533.66,335.08 543.64,341.00 553.62,338.73 563.60,341.49" fill="none" stroke="#2ca02c" stroke-width="2.0" stroke-linejoin="round" stroke-linecap="butt" />
<circle cx="344.04" cy="353.54" r="2.75" fill="#2ca02c"/>
<circle cx="349.03" cy="344.75" r="2.75" fill="#2ca02c"/>
<circle cx="354.02" cy="346.13" r="2.75" fill="#2ca02c"/>
<circle cx="359.01" cy="344.16" r="2.75" fill="#2ca02c"/>
<circle cx="364.00" cy="347.91" r="2.75" fill="#2ca02c"/>
<circle cx="373.98" cy="349.59" r="2.75" fill="#2ca02c"/>
<circle cx="383.96" cy="342.98" r="2.75" fill="#2ca02c"/>
<circle cx="393.94" cy="345.44" r="2.75" fill="#2ca02c"/>
<circle cx="403.92" cy="347.91" r="2.75" fill="#2ca02c"/>
<circle cx="413.90" cy="346.23" r="2.75" fill="#2ca02c"/>
<circle cx="423.88" cy="339.32" r="2.75" fill="#2ca02c"/>
<circle cx="433.86" cy="339.32" r="2.75" fill="#2ca02c"/>
<circle cx="443.84" cy="346.23" r="2.75" fill="#2ca02c"/>
<circle cx="453.82" cy="348.60" r="2.75" fill="#2ca02c"/>
<circle cx="463.80" cy="351.07" r="2.75" fill="#2ca02c"/>
<circle cx="473.78" cy="336.26" r="2.75" fill="#2ca02c"/>
<circle cx="483.76" cy="338.24" r="2.75" fill="#2ca02c"/>
<circle cx="493.74" cy="332.32" r="2.75" fill="#2ca02c"/>
<circle cx="503.72" cy="324.62" r="2.75" fill="#2ca02c"/>
<circle cx="513.70" cy="328.07" r="2.75" fill="#2ca02c"/>
<circle cx="523.68" cy="333.50" r="2.75" fill="#2ca02c"/>
<circle cx="533.66" cy="335.08" r="2.75" fill="#2ca02c"/>
<circle cx="543.64" cy="341.00" r="2.75" fill="#2ca02c"/>
<circle cx="553.62" cy="338.73" r="2.75" fill="#2ca02c"/>
<circle cx="563.60" cy="341.49" r="2.75" fill="#2ca02c"/>
<rect x="333.3" y="210.5" width="240.3" height="157.89999999999998" fill="none" stroke="#000" stroke-width="1.25"/>
<line x1="329.30" y1="368.44" x2="333.30" y2="368.44" stroke="#000" stroke-width="1.25" />
<text x="325.20" y="372.14" font-size="10.3" text-anchor="end" font-weight="normal" textLength="12.2" lengthAdjust="spacingAndGlyphs" >−2</text>
<line x1="329.30" y1="348.70" x2="333.30" y2="348.70" stroke="#000" stroke-width="1.25" />
<text x="325.20" y="352.40" font-size="10.3" text-anchor="end" font-weight="normal" textLength="5.6" lengthAdjust="spacingAndGlyphs" >0</text>
<line x1="329.30" y1="328.96" x2="333.30" y2="328.96" stroke="#000" stroke-width="1.25" />
<text x="325.20" y="332.66" font-size="10.3" text-anchor="end" font-weight="normal" textLength="5.6" lengthAdjust="spacingAndGlyphs" >2</text>
<line x1="329.30" y1="309.22" x2="333.30" y2="309.22" stroke="#000" stroke-width="1.25" />
<text x="325.20" y="312.92" font-size="10.3" text-anchor="end" font-weight="normal" textLength="5.6" lengthAdjust="spacingAndGlyphs" >4</text>
<line x1="329.30" y1="289.48" x2="333.30" y2="289.48" stroke="#000" stroke-width="1.25" />
<text x="325.20" y="293.18" font-size="10.3" text-anchor="end" font-weight="normal" textLength="5.6" lengthAdjust="spacingAndGlyphs" >6</text>
<line x1="329.30" y1="269.74" x2="333.30" y2="269.74" stroke="#000" stroke-width="1.25" />
<text x="325.20" y="273.44" font-size="10.3" text-anchor="end" font-weight="normal" textLength="5.6" lengthAdjust="spacingAndGlyphs" >8</text>
<line x1="329.30" y1="250.00" x2="333.30" y2="250.00" stroke="#000" stroke-width="1.25" />
<text x="325.20" y="253.70" font-size="10.3" text-anchor="end" font-weight="normal" textLength="11.5" lengthAdjust="spacingAndGlyphs" >10</text>
<line x1="329.30" y1="230.26" x2="333.30" y2="230.26" stroke="#000" stroke-width="1.25" />
<text x="325.20" y="233.96" font-size="10.3" text-anchor="end" font-weight="normal" textLength="11.5" lengthAdjust="spacingAndGlyphs" >12</text>
<line x1="329.30" y1="210.52" x2="333.30" y2="210.52" stroke="#000" stroke-width="1.25" />
<text x="325.20" y="214.22" font-size="10.3" text-anchor="end" font-weight="normal" textLength="11.5" lengthAdjust="spacingAndGlyphs" >14</text>
<line x1="364.00" y1="368.40" x2="364.00" y2="372.40" stroke="#000" stroke-width="1.25" />
<text x="364.00" y="384.30" font-size="10.3" text-anchor="middle" font-weight="normal" textLength="5.6" lengthAdjust="spacingAndGlyphs" >2</text>
<line x1="413.90" y1="368.40" x2="413.90" y2="372.40" stroke="#000" stroke-width="1.25" />
<text x="413.90" y="384.30" font-size="10.3" text-anchor="middle" font-weight="normal" textLength="5.6" lengthAdjust="spacingAndGlyphs" >3</text>
<line x1="463.80" y1="368.40" x2="463.80" y2="372.40" stroke="#000" stroke-width="1.25" />
<text x="463.80" y="384.30" font-size="10.3" text-anchor="middle" font-weight="normal" textLength="5.6" lengthAdjust="spacingAndGlyphs" >4</text>
<line x1="513.70" y1="368.40" x2="513.70" y2="372.40" stroke="#000" stroke-width="1.25" />
<text x="513.70" y="384.30" font-size="10.3" text-anchor="middle" font-weight="normal" textLength="5.6" lengthAdjust="spacingAndGlyphs" >5</text>
<line x1="563.60" y1="368.40" x2="563.60" y2="372.40" stroke="#000" stroke-width="1.25" />
<text x="563.60" y="384.30" font-size="10.3" text-anchor="middle" font-weight="normal" textLength="5.6" lengthAdjust="spacingAndGlyphs" >6</text>
<text x="453.50" y="399.00" font-size="10.3" text-anchor="middle" font-weight="normal" textLength="102.3" lengthAdjust="spacingAndGlyphs" >Bond Length (Bohr)</text>
<text x="304.50" y="289.50" font-size="10.3" text-anchor="middle" font-weight="normal" textLength="102.6" lengthAdjust="spacingAndGlyphs" transform="rotate(-90 304.5 289.5)" >Energy Error (mHa)</text>
<text x="297.80" y="217.60" font-size="12" text-anchor="start" font-weight="bold" >d</text>
<line x1="450.10" y1="222.90" x2="471.00" y2="222.90" stroke="#1f77b4" stroke-width="2.0" />
<circle cx="460.5" cy="222.90" r="2.75" fill="#1f77b4"/>
<text x="477.60" y="226.40" font-size="9.7" text-anchor="start" font-weight="normal" textLength="67" lengthAdjust="spacingAndGlyphs" >FermiNet (TM)</text>
<line x1="450.10" y1="236.80" x2="471.00" y2="236.80" stroke="#2ca02c" stroke-width="2.0" />
<circle cx="460.5" cy="236.80" r="2.75" fill="#2ca02c"/>
<text x="477.60" y="240.30" font-size="9.7" text-anchor="start" font-weight="normal" textLength="65.7" lengthAdjust="spacingAndGlyphs" >FermiNet (VE)</text>
<line x1="450.10" y1="250.70" x2="471.00" y2="250.70" stroke="#d62728" stroke-width="2.0" />
<circle cx="460.5" cy="250.70" r="2.75" fill="#d62728"/>
<text x="477.60" y="254.20" font-size="9.7" text-anchor="start" font-weight="normal" textLength="59.8" lengthAdjust="spacingAndGlyphs" >r12-MR-ACPF</text>
<rect x="450.6" y="261.00" width="19.9" height="7.4" fill="#ffd2db"/>
<text x="477.60" y="268.10" font-size="9.7" text-anchor="start" font-weight="normal" textLength="88" lengthAdjust="spacingAndGlyphs" >chemical accuracy</text>
</svg></body></html>
